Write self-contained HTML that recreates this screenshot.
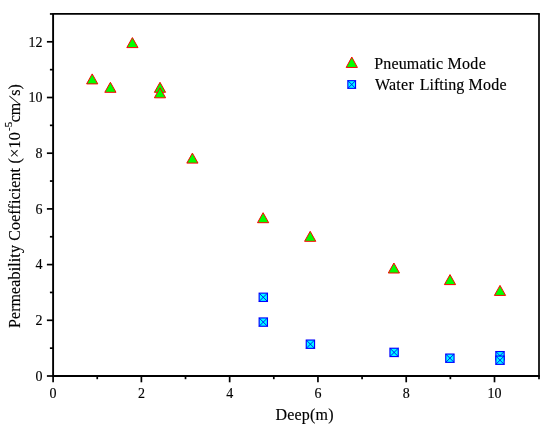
<!DOCTYPE html>
<html><head><meta charset="utf-8"><title>Permeability Coefficient vs Deep</title>
<style>
html,body{margin:0;padding:0;background:#fff;}
body{width:550px;height:431px;overflow:hidden;}
svg{display:block;}
text{font-family:"Liberation Serif","Times New Roman",serif;fill:#000;stroke:#000;stroke-width:0.15px;}
.tk{font-size:14px;}
.lb{font-size:16px;}
</style></head><body>
<svg width="550" height="431" viewBox="0 0 550 431">
<rect width="550" height="431" fill="#fff"/>

<g stroke="#000" fill="none" stroke-linecap="butt">
<line x1="53.1" y1="13.25" x2="53.1" y2="376.9" stroke-width="1.9"/>
<line x1="52.2" y1="376.0" x2="539.85" y2="376.0" stroke-width="1.9"/>
<line x1="53.1" y1="13.95" x2="539.85" y2="13.95" stroke-width="1.7"/>
<line x1="539.0" y1="13.95" x2="539.0" y2="376.0" stroke-width="1.7"/>
<line x1="53.10" y1="376.0" x2="53.10" y2="382.3" stroke-width="1.7"/>
<line x1="97.24" y1="376.0" x2="97.24" y2="379.2" stroke-width="1.7"/>
<line x1="141.38" y1="376.0" x2="141.38" y2="382.3" stroke-width="1.7"/>
<line x1="185.52" y1="376.0" x2="185.52" y2="379.2" stroke-width="1.7"/>
<line x1="229.66" y1="376.0" x2="229.66" y2="382.3" stroke-width="1.7"/>
<line x1="273.80" y1="376.0" x2="273.80" y2="379.2" stroke-width="1.7"/>
<line x1="317.94" y1="376.0" x2="317.94" y2="382.3" stroke-width="1.7"/>
<line x1="362.08" y1="376.0" x2="362.08" y2="379.2" stroke-width="1.7"/>
<line x1="406.22" y1="376.0" x2="406.22" y2="382.3" stroke-width="1.7"/>
<line x1="450.36" y1="376.0" x2="450.36" y2="379.2" stroke-width="1.7"/>
<line x1="494.50" y1="376.0" x2="494.50" y2="382.3" stroke-width="1.7"/>
<line x1="539.00" y1="376.0" x2="539.00" y2="379.2" stroke-width="1.7"/>
<line x1="46.9" y1="376.00" x2="53.1" y2="376.00" stroke-width="1.7"/>
<line x1="49.9" y1="348.15" x2="53.1" y2="348.15" stroke-width="1.7"/>
<line x1="46.9" y1="320.30" x2="53.1" y2="320.30" stroke-width="1.7"/>
<line x1="49.9" y1="292.45" x2="53.1" y2="292.45" stroke-width="1.7"/>
<line x1="46.9" y1="264.60" x2="53.1" y2="264.60" stroke-width="1.7"/>
<line x1="49.9" y1="236.75" x2="53.1" y2="236.75" stroke-width="1.7"/>
<line x1="46.9" y1="208.90" x2="53.1" y2="208.90" stroke-width="1.7"/>
<line x1="49.9" y1="181.05" x2="53.1" y2="181.05" stroke-width="1.7"/>
<line x1="46.9" y1="153.20" x2="53.1" y2="153.20" stroke-width="1.7"/>
<line x1="49.9" y1="125.35" x2="53.1" y2="125.35" stroke-width="1.7"/>
<line x1="46.9" y1="97.50" x2="53.1" y2="97.50" stroke-width="1.7"/>
<line x1="49.9" y1="69.65" x2="53.1" y2="69.65" stroke-width="1.7"/>
<line x1="46.9" y1="41.80" x2="53.1" y2="41.80" stroke-width="1.7"/>
<line x1="49.9" y1="13.95" x2="53.1" y2="13.95" stroke-width="1.7"/>
</g>
<text class="tk" x="53.10" y="398" text-anchor="middle">0</text>
<text class="tk" x="141.38" y="398" text-anchor="middle">2</text>
<text class="tk" x="229.66" y="398" text-anchor="middle">4</text>
<text class="tk" x="317.94" y="398" text-anchor="middle">6</text>
<text class="tk" x="406.22" y="398" text-anchor="middle">8</text>
<text class="tk" x="494.50" y="398" text-anchor="middle">10</text>
<text class="tk" x="42.5" y="380.70" text-anchor="end">0</text>
<text class="tk" x="42.5" y="325.00" text-anchor="end">2</text>
<text class="tk" x="42.5" y="269.30" text-anchor="end">4</text>
<text class="tk" x="42.5" y="213.60" text-anchor="end">6</text>
<text class="tk" x="42.5" y="157.90" text-anchor="end">8</text>
<text class="tk" x="42.5" y="102.20" text-anchor="end">10</text>
<text class="tk" x="42.5" y="46.50" text-anchor="end">12</text>
<text class="lb" x="275.5" y="420.4" textLength="58">Deep(m)</text>
<g transform="translate(19.5,0) rotate(-90)" class="lb">
<text class="lb" x="-328.1" y="0" textLength="83">Permeability</text>
<text class="lb" x="-240.7" y="0" textLength="72.7">Coefficient</text>
<text class="lb" x="-163.4" y="0" textLength="31.2">(×10</text>
<text x="-131.0" y="-7.3" font-size="11px">-5</text>
<text class="lb" x="-122.3" y="0">cm</text>
<text class="lb" transform="translate(-105.0,0) skewX(-25)" x="0" y="0">/</text>
<text class="lb" x="-95.8" y="0">s)</text>
</g>
<polygon points="92.20,73.90 97.80,83.90 86.60,83.90" fill="#00ff00" stroke="#ff0000" stroke-width="1" stroke-linejoin="miter"/>
<polygon points="110.40,82.30 116.00,92.30 104.80,92.30" fill="#00ff00" stroke="#ff0000" stroke-width="1" stroke-linejoin="miter"/>
<polygon points="132.40,37.60 138.00,47.60 126.80,47.60" fill="#00ff00" stroke="#ff0000" stroke-width="1" stroke-linejoin="miter"/>
<polygon points="160.00,82.30 165.60,92.30 154.40,92.30" fill="#00ff00" stroke="#ff0000" stroke-width="1" stroke-linejoin="miter"/>
<polygon points="160.00,87.80 165.60,97.80 154.40,97.80" fill="#00ff00" stroke="#ff0000" stroke-width="1" stroke-linejoin="miter"/>
<polygon points="192.40,153.10 198.00,163.10 186.80,163.10" fill="#00ff00" stroke="#ff0000" stroke-width="1" stroke-linejoin="miter"/>
<polygon points="263.10,212.70 268.70,222.70 257.50,222.70" fill="#00ff00" stroke="#ff0000" stroke-width="1" stroke-linejoin="miter"/>
<polygon points="310.20,231.30 315.80,241.30 304.60,241.30" fill="#00ff00" stroke="#ff0000" stroke-width="1" stroke-linejoin="miter"/>
<polygon points="393.90,263.00 399.50,273.00 388.30,273.00" fill="#00ff00" stroke="#ff0000" stroke-width="1" stroke-linejoin="miter"/>
<polygon points="450.00,274.60 455.60,284.60 444.40,284.60" fill="#00ff00" stroke="#ff0000" stroke-width="1" stroke-linejoin="miter"/>
<polygon points="500.00,285.40 505.60,295.40 494.40,295.40" fill="#00ff00" stroke="#ff0000" stroke-width="1" stroke-linejoin="miter"/>
<g stroke="#0000ff" stroke-width="1.15"><rect x="259.15" y="293.15" width="8.3" height="8.3" fill="#00ffff"/><path d="M259.15,293.15l8.3,8.3M267.45,293.15l-8.3,8.3" fill="none" stroke-width="0.9"/></g>
<g stroke="#0000ff" stroke-width="1.15"><rect x="259.15" y="317.95" width="8.3" height="8.3" fill="#00ffff"/><path d="M259.15,317.95l8.3,8.3M267.45,317.95l-8.3,8.3" fill="none" stroke-width="0.9"/></g>
<g stroke="#0000ff" stroke-width="1.15"><rect x="306.25" y="340.05" width="8.3" height="8.3" fill="#00ffff"/><path d="M306.25,340.05l8.3,8.3M314.55,340.05l-8.3,8.3" fill="none" stroke-width="0.9"/></g>
<g stroke="#0000ff" stroke-width="1.15"><rect x="389.95" y="348.25" width="8.3" height="8.3" fill="#00ffff"/><path d="M389.95,348.25l8.3,8.3M398.25,348.25l-8.3,8.3" fill="none" stroke-width="0.9"/></g>
<g stroke="#0000ff" stroke-width="1.15"><rect x="445.75" y="354.05" width="8.3" height="8.3" fill="#00ffff"/><path d="M445.75,354.05l8.3,8.3M454.05,354.05l-8.3,8.3" fill="none" stroke-width="0.9"/></g>
<g stroke="#0000ff" stroke-width="1.15"><rect x="495.85" y="351.55" width="8.3" height="8.3" fill="#00ffff"/><path d="M495.85,351.55l8.3,8.3M504.15,351.55l-8.3,8.3" fill="none" stroke-width="0.9"/></g>
<g stroke="#0000ff" stroke-width="1.15"><rect x="495.85" y="356.05" width="8.3" height="8.3" fill="#00ffff"/><path d="M495.85,356.05l8.3,8.3M504.15,356.05l-8.3,8.3" fill="none" stroke-width="0.9"/></g>
<polygon points="351.80,57.05 357.40,67.45 346.20,67.45" fill="#00ff00" stroke="#ff0000" stroke-width="1" stroke-linejoin="miter"/>
<g stroke="#0000ff" stroke-width="1.1"><rect x="347.85" y="80.65" width="7.7" height="7.7" fill="#00ffff"/><path d="M347.85,80.65l7.7,7.7M355.55,80.65l-7.7,7.7" fill="none" stroke-width="0.9"/></g>
<text class="lb" x="374.3" y="69.2" textLength="68.7">Pneumatic</text>
<text class="lb" x="447.5" y="69.2" textLength="38.3">Mode</text>
<text class="lb" x="374.9" y="90.0" textLength="38.9">Water</text>
<text class="lb" x="419.8" y="90.0">Lifting</text>
<text class="lb" x="468.4" y="90.0" textLength="38.3">Mode</text>
</svg></body></html>
